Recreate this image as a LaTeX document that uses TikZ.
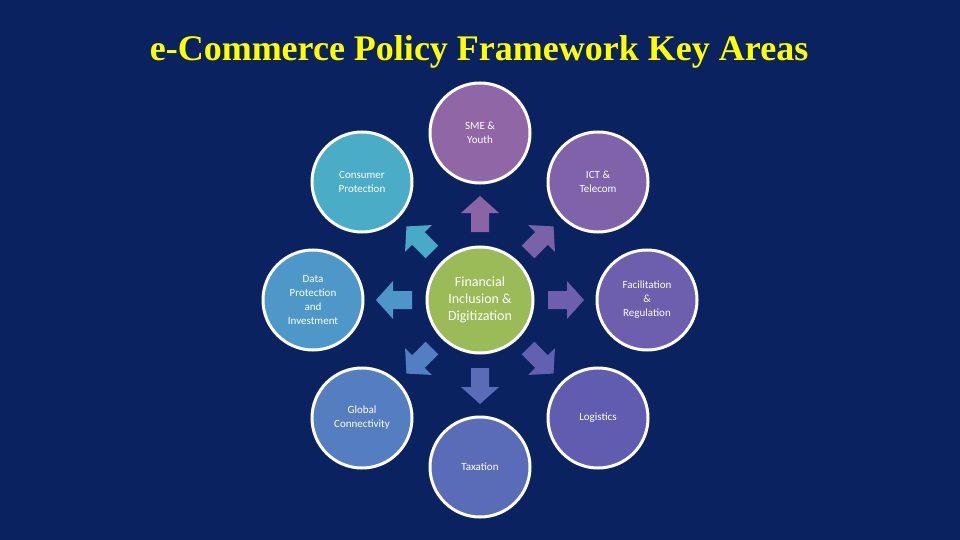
\documentclass[tikz,border=0pt]{standalone}
\usepackage{fontspec}
\setmainfont{Carlito}
\newfontfamily\titlefont{Liberation Serif}
\begin{document}
\begin{tikzpicture}[x=1pt,y=-1pt,
  bub/.style={circle,draw=white,line width=3pt,minimum size=100pt,inner sep=0pt,text=white,font=\fontsize{11}{14}\selectfont,align=center},
  outarrow/.pic={\fill[pic actions] (-9,-68)--(9,-68)--(9,-87)--(19,-87)--(0,-104)--(-19,-87)--(-9,-87)--cycle;}]
\definecolor{bg}{HTML}{0B2260}
\fill[bg] (0,0) rectangle (960,540);
\node[text={rgb,255:red,255;green,255;blue,0},font=\titlefont\bfseries\fontsize{36}{40}\selectfont] (title) at (479,52) {e-Commerce Policy Framework Key Areas};
\node[bub,fill={rgb,255:red,155;green,187;blue,89},minimum size=106pt,font=\fontsize{14}{17}\selectfont] (c) at (480,300) {Financial\\Inclusion \&\\Digitization};
\node[bub,fill={rgb,255:red,144;green,102;blue,166}] (sme) at (480,133) {SME \&\\Youth};
\node[bub,fill={rgb,255:red,128;green,98;blue,170}] (ict) at (598,182) {ICT \&\\Telecom};
\node[bub,fill={rgb,255:red,110;green,94;blue,174}] (fac) at (647,300) {Facilitation\\\&\\Regulation};
\node[bub,fill={rgb,255:red,96;green,92;blue,176}] (log) at (598,418) {Logistics};
\node[bub,fill={rgb,255:red,90;green,108;blue,184}] (tax) at (480,467) {Taxation};
\node[bub,fill={rgb,255:red,84;green,126;blue,192}] (glo) at (362,418) {Global\\Connectivity};
\node[bub,fill={rgb,255:red,78;green,152;blue,201}] (dat) at (313,300) {Data\\Protection\\and\\Investment};
\node[bub,fill={rgb,255:red,74;green,172;blue,198}] (con) at (362,182) {Consumer\\Protection};
\foreach \a/\r/\g/\b in {0/138/100/165, 45/122/98/169, 90/110/95/174, 135/98/96/176, 180/90/108/184, 225/82/127/193, 270/76/150/201, 315/72/169/200}{
  \pic[fill={rgb,255:red,\r;green,\g;blue,\b},rotate=-\a] at (c) {outarrow};
}
\end{tikzpicture}
\end{document}
